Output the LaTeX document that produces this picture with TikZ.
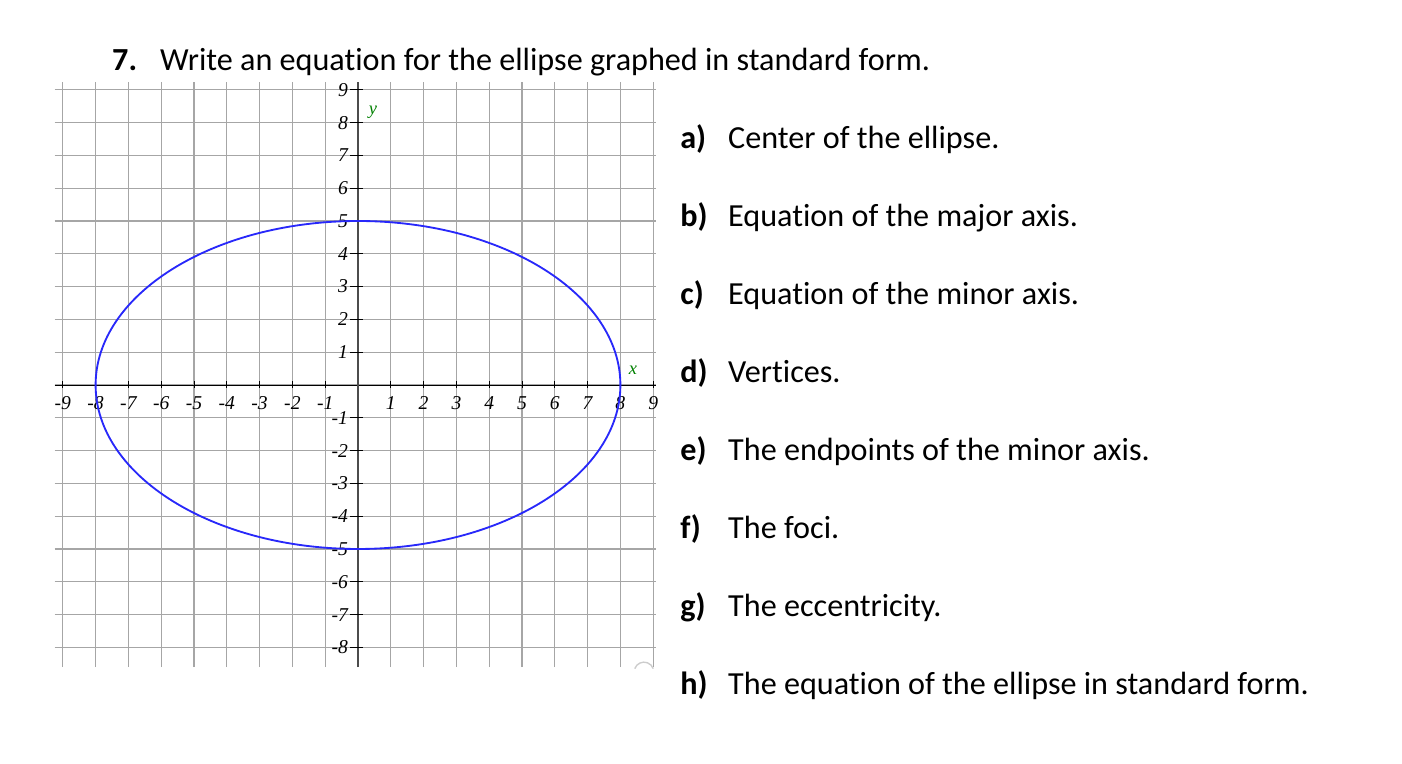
\documentclass[tikz,border=0pt]{standalone}
\usepackage{fontspec}
\setmainfont{Carlito}[Ligatures=NoCommon]
\newfontfamily\numfont{Liberation Serif}
\usepackage{tikz}
\usetikzlibrary{positioning}
\definecolor{curveblue}{RGB}{40,40,250}

\begin{document}
\begin{tikzpicture}[x=1cm,y=1cm,
  gridline/.style={gray!70,line width=1.1pt},
  ticklbl/.style={inner sep=0pt,font=\numfont\itshape\fontsize{17}{17}\selectfont},
  axlbl/.style={inner sep=0pt,text=green!50!black,font=\numfont\itshape\fontsize{16}{16}\selectfont},
  qlbl/.style={inner sep=0pt,anchor=base west,font=\bfseries\fontsize{27.9}{32}\selectfont},
  qtext/.style={inner sep=0pt,anchor=base west,font=\fontsize{27.9}{32}\selectfont}]
\useasboundingbox (-10.915,-11.555) rectangle (31.83,11.738);

% title
\node [qlbl] (num) at (-7.5,9.58) {7.};
\node [qtext] (title) at (-6.04,9.58)
  {Write an equation for the ellipse graphed in standard form.};

% grid
\foreach \x in {-9,...,9}
  \draw [gridline] (\x,-8.6) -- (\x,9.25);
\foreach \y in {-8,...,9}
  \draw [gridline] (-9.25,\y) -- (9.1,\y);

% axes
\draw [black,line width=0.8pt] (-9.25,0) -- (9.1,0);
\draw [black!70,line width=1.1pt] (0,-8.6) -- (0,9.25);
\foreach \x in {-9,...,-1,1,2,...,9} {
  \draw [black,line width=0.8pt] (\x,0.12) -- (\x,-0.1);
  \node [ticklbl] (xl\x) at (\x,-0.55) {\x};
}
\foreach \y in {-8,...,-1,1,2,...,9} {
  \draw [black,line width=0.8pt] (-0.25,\y) -- (0.15,\y);
  \node [ticklbl,anchor=east] (yl\y) at (-0.3,\y) {\y};
}
\node [axlbl] (xname) at (8.38,0.46) {x};
\node [axlbl] (yname) at (0.46,8.33) {y};

% the ellipse
\draw [curveblue,line width=1.6pt] (0,0) ellipse (8 and 5);

% corner handle
\draw [gray!40,line width=1.2pt] (8.72,-8.75) ++(160:0.3) arc (160:20:0.3);

% questions
\foreach \l/\t [count=\i from 0] in {
  a/Center of the ellipse.,
  b/Equation of the major axis.,
  c/Equation of the minor axis.,
  d/Vertices.,
  e/The endpoints of the minor axis.,
  f/The foci.,
  g/The eccentricity.,
  h/The equation of the ellipse in standard form.} {
  \node [qlbl] (q\l) at (9.82,7.196-2.378*\i) {\l)};
  \node [qtext] (t\l) at (11.28,7.196-2.378*\i) {\t};
}
\end{tikzpicture}
\end{document}
